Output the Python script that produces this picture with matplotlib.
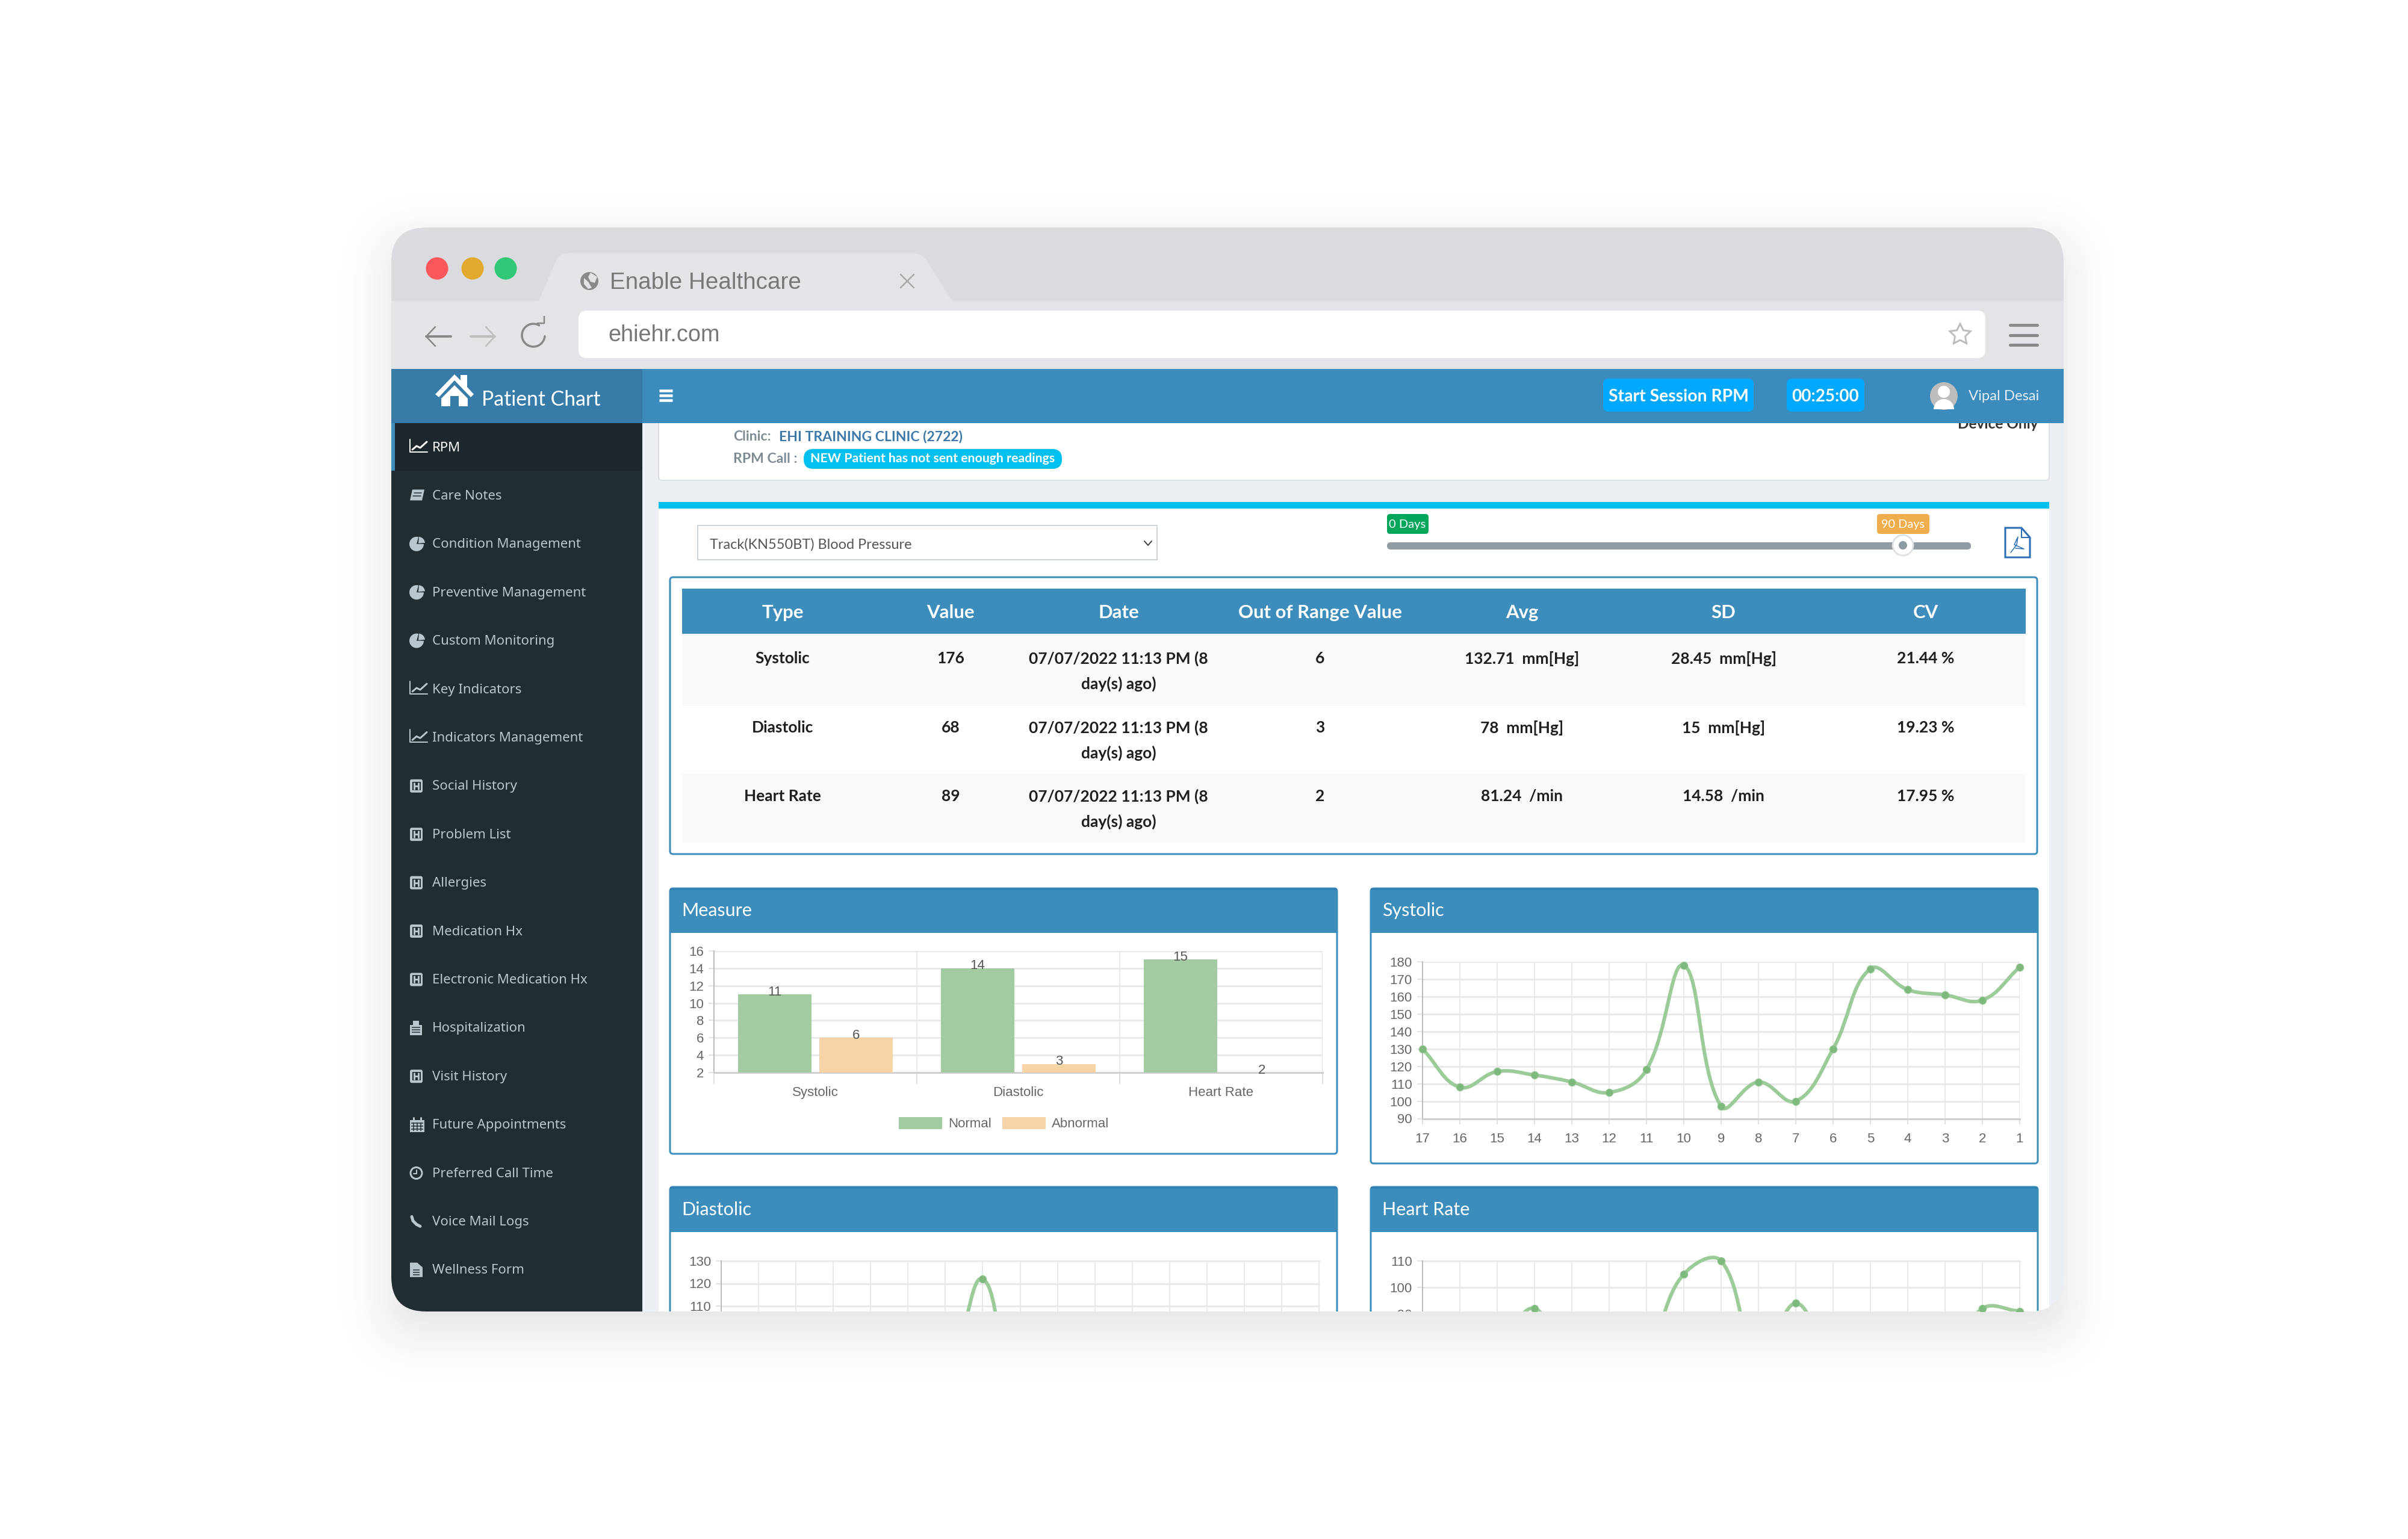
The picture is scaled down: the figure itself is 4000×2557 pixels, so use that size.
import numpy as np
import matplotlib
matplotlib.use("Agg")
import matplotlib.pyplot as plt
from matplotlib.patches import FancyBboxPatch, Rectangle, Circle, Wedge, PathPatch, Polygon
from matplotlib.path import Path
from matplotlib.textpath import TextPath
from matplotlib.font_manager import FontProperties
from matplotlib.lines import Line2D

# ---------- data ----------
menu_labels = ["RPM", "Care Notes", "Condition Management", "Preventive Management", "Custom Monitoring",
               "Key Indicators", "Indicators Management", "Social History", "Problem List", "Allergies",
               "Medication Hx", "Electronic Medication Hx", "Hospitalization", "Visit History",
               "Future Appointments", "Preferred Call Time", "Voice Mail Logs", "Wellness Form"]
menu_icons = ["line", "book", "pie", "pie", "pie", "line", "line", "h", "h", "h", "h", "h", "clip", "h",
              "cal", "clock", "phone", "file"]
table_header = ["Type", "Value", "Date", "Out of Range Value", "Avg", "SD", "CV"]
table_types = ["Systolic", "Diastolic", "Heart Rate"]
table_values = ["176", "68", "89"]
table_date1 = "07/07/2022 11:13 PM (8"
table_date2 = "day(s) ago)"
table_oor = ["6", "3", "2"]
table_avg = ["132.71  mm[Hg]", "78  mm[Hg]", "81.24  /min"]
table_sd = ["28.45  mm[Hg]", "15  mm[Hg]", "14.58  /min"]
table_cv = ["21.44 %", "19.23 %", "17.95 %"]

measure_categories = ["Systolic", "Diastolic", "Heart Rate"]
measure_normal = [11, 14, 15]
measure_abnormal = [6, 3, 2]

reading_labels = ["17", "16", "15", "14", "13", "12", "11", "10", "9", "8", "7", "6", "5", "4", "3", "2", "1"]
systolic = [130, 108, 117, 115, 111, 105, 118, 178, 97, 111, 100, 130, 176, 164, 161, 158, 177]
# only the peak is visible above the window edge; the rest is estimated
diastolic = [72, 66, 75, 70, 68, 74, 78, 122, 62, 72, 70, 84, 68, 78, 76, 74, 68]
# readings below about 90 are hidden by the window edge and are estimated
heart_rate = [80, 72, 78, 92, 70, 75, 78, 105, 110, 72, 94, 72, 70, 68, 72, 92, 91]

# ---------- layout ----------
W, H = 4000, 2557
fig = plt.figure(figsize=(W / 100, H / 100), dpi=100, facecolor="white")
root = fig.add_axes([0, 0, 1, 1], zorder=0)
root.set_xlim(0, W)
root.set_ylim(H, 0)
root.axis("off")

PX = 0.72
BLUE = "#3C8DBC"
WX0, WX1, WY0, WY1 = 650, 3428, 378, 2179
SANS = "Noto Sans"
COND = "Lato"
HELV = "Liberation Sans"
TICK_PT = 16


def fit(s, w, family, weight="normal"):
    fp = FontProperties(family=family, weight=weight)
    return w * 72 / TextPath((0, 0), s, size=100, prop=fp).get_extents().width


def T(x, y, s, size, color="#333333", family=SANS, weight="normal", ha="left", va="center", z=6):
    return root.text(x, y, s, fontsize=size, color=color, family=family, fontweight=weight, ha=ha, va=va, zorder=z)


def RR(x0, y0, x1, y1, r=0, fc="white", ec="none", lw=0, z=2, clip=None):
    if r > 0:
        p = FancyBboxPatch((x0, y0), x1 - x0, y1 - y0, boxstyle=f"round,pad=0,rounding_size={r}",
                           fc=fc, ec=ec, lw=lw * PX, zorder=z)
    else:
        p = Rectangle((x0, y0), x1 - x0, y1 - y0, fc=fc, ec=ec, lw=lw * PX, zorder=z)
    root.add_patch(p)
    if clip is not None:
        p.set_clip_path(clip)
    return p


def L(xs, ys, color, lw, z=6, cap="round"):
    ln = Line2D(xs, ys, color=color, lw=lw * PX, zorder=z, solid_capstyle=cap, solid_joinstyle="round")
    root.add_line(ln)
    return ln


# shadow drawn as opaque nested shapes, lightest first
for d in np.linspace(100, -30, 26):
    g = 255 - 23 * ((100 - d) / 130) ** 1.6
    c = (g / 255,) * 3
    RR(WX0 - d, WY0 + 30 - d, WX1 + d, WY1 + 30 + d, r=max(60 + d, 20), fc=c, z=0.5)

window = RR(WX0, WY0, WX1, WY1, r=58, fc="#DADBDF", z=1)
window_clip = Rectangle((WX0, WY0), WX1 - WX0, WY1 - WY0, transform=root.transData)

# browser chrome
RR(WX0, 500, WX1, 613, fc="#E3E4E8", z=1.2, clip=window)
tab = Path([(895, 500), (925, 430), (930, 420), (950, 420), (1510, 420), (1530, 420), (1537, 430), (1582, 500), (895, 500)],
           [Path.MOVETO, Path.LINETO, Path.CURVE3, Path.CURVE3, Path.LINETO, Path.CURVE3, Path.CURVE3, Path.LINETO, Path.CLOSEPOLY])
root.add_patch(PathPatch(tab, fc="#E3E4E8", ec="none", zorder=1.2))
for cx, col in zip([726, 785, 840], ["#F9575B", "#E2A92E", "#30C876"]):
    root.add_patch(Circle((cx, 446), 18.5, fc=col, ec="none", zorder=2))
root.add_patch(Circle((979, 467), 15, fc="#8A8A8A", ec="none", zorder=2))
root.add_patch(Polygon([(981, 453), (992, 460), (988, 470), (981, 468), (977, 460)], fc="#E3E4E8", ec="none", zorder=2.1))
root.add_patch(Polygon([(970, 462), (977, 468), (983, 478), (977, 480), (970, 472)], fc="#E3E4E8", ec="none", zorder=2.1))
T(1013, 470, "Enable Healthcare", fit("Enable Healthcare", 313, HELV), "#777777", HELV)
L([1496, 1518], [456, 478], "#A8A8A8", 2.5)
L([1518, 1496], [456, 478], "#A8A8A8", 2.5)
RR(961, 516, 3298, 595, r=14, fc="white", z=2)
T(1010, 557, "ehiehr.com", fit("ehiehr.com", 181, HELV), "#777777", HELV)
L([708, 749], [559, 559], "#888888", 4)
L([723, 708, 723], [543, 559, 575], "#888888", 2.5)
L([782, 822], [559, 559], "#BDBDBD", 4)
L([807, 822, 807], [543, 559, 575], "#BDBDBD", 2.5)
theta = np.deg2rad(np.linspace(5, 300, 50))
L(886 + 19 * np.cos(theta), 557 + 19 * np.sin(theta), "#888888", 3.5)
L([893, 904, 904], [537, 537, 526], "#888888", 2.5)
star_a = np.deg2rad(np.arange(0, 360, 36) - 90)
star_r = np.where(np.arange(10) % 2 == 0, 18, 9)
root.add_patch(Polygon(np.c_[3256 + star_r * np.cos(star_a), 556 + star_r * np.sin(star_a)],
                       fc="none", ec="#BDBDBD", lw=3 * PX, zorder=4))
for yy in [540, 557, 573]:
    L([3339, 3384], [yy, yy], "#8A8A8A", 5)

# content background
RR(1067, 613, WX1, WY1 + 2, fc="#ECF0F5", z=1.5, clip=window)
RR(1094, 690, 3404, 798, r=6, fc="white", ec="#D6DADF", lw=1.5, z=1.8)
RR(1094, 834, 3404, WY1 + 40, fc="white", z=1.8, clip=window)
RR(1094, 834, 3404, 845, fc="#00C0EF", z=1.9)

# top box texts (the clipped line sits under the header)
T(3386, 704, "Device Only", fit("Device Only", 132, COND, "bold"), "#333333", COND, "bold", ha="right", z=2)
cf = fit("EHI TRAINING CLINIC (2722)", 302, COND, "bold")
T(1218, 725, "Clinic:", cf, "#7F8B93", COND, "bold")
T(1294, 725, "EHI TRAINING CLINIC (2722)", cf, "#3C78A8", COND, "bold")
T(1218, 762, "RPM Call :", cf, "#7F8B93", COND, "bold")
RR(1335, 746, 1764, 779, r=16, fc="#00C0EF", z=3)
T(1549, 762, "NEW Patient has not sent enough readings",
  fit("NEW Patient has not sent enough readings", 405, COND, "bold"), "white", COND, "bold", ha="center")

# header
RR(WX0, 613, 1067, 703, fc="#377CA8", z=3)
RR(1067, 613, WX1, 703, fc="#3B8BBC", z=3)
root.add_patch(Polygon([(723, 655), (755, 622), (765, 632), (765, 623), (776, 623), (776, 643), (787, 655), (782, 660),
                        (755, 632), (729, 660)], fc="white", ec="none", zorder=4))
root.add_patch(Polygon([(733, 662), (755, 640), (777, 662), (777, 675), (762, 675), (762, 658), (748, 658), (748, 675),
                        (733, 675)], fc="white", ec="none", zorder=4))
T(800, 664, "Patient Chart", fit("Patient Chart", 194, "Lato"), "#FFFFFF", "Lato", "normal")
for yy in [649, 657, 665]:
    L([1095, 1117], [yy, yy], "white", 4.5, cap="butt")
RR(2663, 629, 2913, 684, r=9, fc="#00A8FF", z=4)
RR(2968, 629, 3097, 684, r=9, fc="#00A8FF", z=4)
T(2788, 659, "Start Session RPM", fit("Start Session RPM", 230, COND, "bold"), "white", COND, "bold", ha="center")
T(3032, 659, "00:25:00", fit("00:25:00", 110, COND, "bold"), "white", COND, "bold", ha="center")
root.add_patch(Circle((3229, 658), 23, fc="#BDBDBD", ec="none", zorder=4))
root.add_patch(Circle((3229, 651), 10, fc="white", ec="none", zorder=4.1))
root.add_patch(Wedge((3229, 680), 17, 180, 360, fc="white", ec="none", zorder=4.1))
T(3270, 658, "Vipal Desai", fit("Vipal Desai", 116, COND), "#E4EEF5", COND)

# sidebar
RR(WX0, 703, 1067, WY1 + 2, fc="#222D32", z=3, clip=window)
RR(WX0, 703, 1067, 782, fc="#1E282C", z=3.1)
RR(WX0, 703, 656, 782, fc=BLUE, z=3.2)


def icon(kind, cy, col):
    x = 681
    if kind == "line":
        L([x, x, x + 29], [cy - 13, cy + 8, cy + 8], col, 2)
        L([x + 4, x + 11, x + 17, x + 28], [cy + 4, cy - 2, cy + 1, cy - 9], col, 3)
    elif kind == "book":
        root.add_patch(Polygon([(x + 4, cy - 10), (x + 24, cy - 10), (x + 20, cy + 8), (x, cy + 8)], fc=col, ec="none", zorder=6))
        L([x + 7, x + 19], [cy - 4, cy - 4], "#222D32", 1.5)
        L([x + 5, x + 18], [cy + 1, cy + 1], "#222D32", 1.5)
    elif kind == "pie":
        root.add_patch(Wedge((x + 11, cy), 12, 0, 285, fc=col, ec="none", zorder=6))
        root.add_patch(Wedge((x + 14, cy - 1), 11, -85, -5, fc=col, ec="none", zorder=6))
    elif kind == "h":
        RR(x, cy - 11, x + 21, cy + 11, r=3, fc=col, z=6)
        RR(x + 3.5, cy - 7, x + 17.5, cy + 7, fc="#222D32", z=6.1)
        L([x + 7, x + 7], [cy - 6, cy + 6], col, 3, z=6.2, cap="butt")
        L([x + 14, x + 14], [cy - 6, cy + 6], col, 3, z=6.2, cap="butt")
        L([x + 7, x + 14], [cy, cy], col, 3, z=6.2, cap="butt")
    elif kind == "clip":
        RR(x, cy - 5, x + 20, cy + 12, fc=col, z=6)
        RR(x + 5, cy - 12, x + 15, cy - 5, fc=col, z=6)
        for dy in [-1, 3, 7]:
            L([x + 3, x + 17], [cy + dy, cy + dy], "#222D32", 1.5, cap="butt")
    elif kind == "cal":
        RR(x, cy - 8, x + 24, cy + 12, fc=col, z=6)
        L([x + 6, x + 6], [cy - 12, cy - 6], col, 3)
        L([x + 18, x + 18], [cy - 12, cy - 6], col, 3)
        for dy in [-3, 2, 7]:
            L([x + 2, x + 22], [cy + dy, cy + dy], "#222D32", 1.5, cap="butt")
        for dx in [6, 12, 18]:
            L([x + dx, x + dx], [cy - 4, cy + 10], "#222D32", 1.5, cap="butt")
    elif kind == "clock":
        root.add_patch(Circle((x + 10.5, cy), 9.5, fc="none", ec=col, lw=3 * PX, zorder=6))
        L([x + 11, x + 11, x + 6], [cy - 5, cy + 1, cy + 1], col, 2)
    elif kind == "phone":
        L([x + 3, x + 5, x + 11, x + 17], [cy - 8, cy - 1, cy + 5, cy + 8], col, 5)
    elif kind == "file":
        root.add_patch(Polygon([(x, cy - 12), (x + 12, cy - 12), (x + 21, cy - 4), (x + 21, cy + 12), (x, cy + 12)],
                               fc=col, ec="none", zorder=6))
        for dy in [0, 4, 8]:
            L([x + 5, x + 16], [cy + dy, cy + dy], "#222D32", 1.5, cap="butt")


mf = fit("Indicators Management", 250, SANS)
for i, (label, ic) in enumerate(zip(menu_labels, menu_icons)):
    cy = 743 + 80.4 * i
    col = "white" if i == 0 else "#B8C7CE"
    T(718, cy + 1, label, mf, col, SANS)
    icon(ic, cy, col)

# controls
RR(1159, 873, 1922, 930, fc="white", ec="#CFD3DA", lw=2, z=3)
T(1179, 905, "Track(KN550BT) Blood Pressure", fit("Track(KN550BT) Blood Pressure", 335, COND), "#555555", COND)
L([1901, 1907, 1913], [899, 906, 899], "#444444", 2)
RR(2304, 854, 2373, 887, r=5, fc="#00A65A", z=3)
T(2338, 871, "0 Days", fit("0 Days", 60, COND), "white", COND, ha="center")
RR(3118, 854, 3205, 887, r=5, fc="#F0AD4E", z=3)
T(3161, 871, "90 Days", fit("90 Days", 70, COND), "white", COND, ha="center")
RR(2304, 901, 3274, 913, r=6, fc="#909BA4", z=3)
root.add_patch(Circle((3161, 906), 17, fc="white", ec="#DDE1E4", lw=2, zorder=4))
root.add_patch(Circle((3161, 906), 7, fc="#8F9BA3", ec="none", zorder=4.1))
root.add_patch(Polygon([(3331, 877), (3358, 877), (3372, 893), (3372, 926), (3331, 926)], fc="white", ec="#2A6FB5",
                       lw=3 * PX, zorder=4))
L([3358, 3358, 3372], [877, 893, 893], "#2A6FB5", 2)
L([3340, 3350, 3352, 3346, 3362, 3348], [918, 905, 892, 905, 912, 911], "#2A6FB5", 1.5)

# table
RR(1113, 959, 3384, 1419, r=5, fc="white", ec=BLUE, lw=3, z=2)
RR(1133, 978, 3365, 1053, fc=BLUE, z=2.1)
RR(1133, 1053, 3365, 1173, fc="#F9F9F9", z=2.1)
RR(1133, 1285, 3365, 1400, fc="#F9F9F9", z=2.1)
col_x = [1300, 1579, 1858, 2193, 2528, 2863, 3199]
hf = fit("Out of Range Value", 270, COND, "bold")
for cx, h in zip(col_x, table_header):
    T(cx, 1018, h, hf, "white", COND, "bold", ha="center")
tf = fit(table_date1, 296, COND, "bold")
row_y = [1094, 1209, 1323]
for i, y in enumerate(row_y):
    vals = [table_types[i], table_values[i], table_date1, table_oor[i], table_avg[i], table_sd[i], table_cv[i]]
    for cx, v in zip(col_x, vals):
        T(cx, y, v, tf, "#1E1E1E", COND, "bold", ha="center")
    T(col_x[2], y + 42, table_date2, tf, "#1E1E1E", COND, "bold", ha="center")

# chart panels
PANELS = [("Measure", 1113, 2221, 1476, 1917, 1550), ("Systolic", 2277, 3385, 1476, 1933, 1550),
          ("Diastolic", 1113, 2221, 1972, WY1 + 40, 2047), ("Heart Rate", 2277, 3385, 1972, WY1 + 40, 2047)]
pf = fit("Measure", 113, COND)
for name, x0, x1, y0, y1, yh in PANELS:
    RR(x0, y0, x1, y1, r=5, fc="white", ec=BLUE, lw=3, z=2, clip=window)
    RR(x0, y0, x1, yh, fc=BLUE, z=2.1, clip=window)
    RR(x0, y0, x1, y0 + 3, fc="#2E7FB2", z=2.2)
    T(x0 + 19, (y0 + yh) / 2, name, pf, "white", COND)


def chart_axes(x0, x1, ytop, ybot):
    ax = fig.add_axes([x0 / W, 1 - ybot / H, (x1 - x0) / W, (ybot - ytop) / H], zorder=1)
    ax.patch.set_alpha(0)
    for s in ["top", "right"]:
        ax.spines[s].set_visible(False)
    ax.spines["left"].set_color("#BBBBBB")
    ax.spines["left"].set_linewidth(2 * PX)
    ax.spines["bottom"].set_color("#CFCFCF")
    ax.spines["bottom"].set_linewidth(3 * PX)
    ax.set_axisbelow(True)
    ax.grid(True, axis="y", color="#E8E8E8", lw=3 * PX)
    ax.grid(True, axis="x", color="#E3E3E3", lw=1.5 * PX)
    ax.tick_params(axis="y", length=9 * PX, width=2 * PX, color="#E3E3E3", pad=8 * PX, labelsize=TICK_PT,
                   labelcolor="#666666")
    ax.tick_params(axis="x", length=9 * PX, width=1.5 * PX, color="#D5D5D5", pad=14 * PX, labelsize=TICK_PT,
                   labelcolor="#666666")
    return ax


# Measure: grouped bars
ax = chart_axes(1186, 2197, 1580, 1782)
ax.set_xlim(0, 3)
ax.set_ylim(2, 16)
ax.set_yticks(range(2, 17, 2))
ax.set_xticks([0, 1, 2, 3])
ax.set_xticklabels([])
ax.tick_params(axis="x", which="major", length=19 * PX)
centres = np.arange(3) + 0.5
ax.set_xticks(centres, minor=True)
ax.set_xticklabels(measure_categories, minor=True, fontsize=TICK_PT, color="#666666", family=HELV)
ax.tick_params(axis="x", which="minor", length=0, pad=23 * PX)
b1 = ax.bar(centres - 0.2, measure_normal, 0.36, color="#A3CBA1", label="Normal", bottom=0, zorder=3)
b2 = ax.bar(centres + 0.2, measure_abnormal, 0.36, color="#F7D4A6", label="Abnormal", bottom=0, zorder=3)
for xs, vals in [(centres - 0.2, measure_normal), (centres + 0.2, measure_abnormal)]:
    for xv, v in zip(xs, vals):
        ax.annotate(str(v), (xv, v), xytext=(0, 4 * PX), textcoords="offset points", ha="center", va="center",
                    fontsize=TICK_PT, color="#555555", family=HELV, annotation_clip=False, zorder=5)
for lb in ax.get_yticklabels():
    lb.set_family(HELV)
ax.legend(handles=[b1, b2], ncol=2, loc="center", bbox_to_anchor=(1667.5, 1867), bbox_transform=root.transData,
          frameon=False, prop=FontProperties(family=HELV, size=TICK_PT), labelcolor="#666666", borderpad=0,
          handlelength=3.26, handleheight=1.0, handletextpad=0.45, columnspacing=0.8, borderaxespad=0)


def bezier_path(xs, ys, ax, wpx, hpx, tension=0.4):
    """Chart.js style bezier through the data, built in pixel proportions."""
    x0, x1 = ax.get_xlim()
    y0, y1 = ax.get_ylim()
    sx, sy = wpx / (x1 - x0), hpx / (y1 - y0)
    P = np.c_[np.asarray(xs, float) * sx, np.asarray(ys, float) * sy]
    n = len(P)
    cp_prev, cp_next = np.zeros_like(P), np.zeros_like(P)
    for i in range(n):
        pr, cu, nx = P[max(i - 1, 0)], P[i], P[min(i + 1, n - 1)]
        d01, d12 = np.hypot(*(cu - pr)), np.hypot(*(nx - cu))
        tot = d01 + d12
        fa, fb = tension * d01 / tot, tension * d12 / tot
        cp_prev[i] = cu - fa * (nx - pr)
        cp_next[i] = cu + fb * (nx - pr)
    verts, codes = [P[0]], [Path.MOVETO]
    for i in range(n - 1):
        verts += [cp_next[i], cp_prev[i + 1], P[i + 1]]
        codes += [Path.CURVE4] * 3
    return Path(np.array(verts) / [sx, sy], codes)


def line_chart(values, x0, x1, ytop, ybot, ylow, yhigh, ticks, clip=False):
    ax = chart_axes(x0, x1, ytop, ybot)
    ax.set_xlim(0, len(values) - 1)
    ax.set_ylim(ylow, yhigh)
    ax.set_yticks(ticks)
    xp = np.arange(len(values))
    ax.set_xticks(xp)
    ax.set_xticklabels(reading_labels)
    for lb in ax.get_xticklabels() + ax.get_yticklabels():
        lb.set_family(HELV)
    ax.add_patch(PathPatch(bezier_path(xp, values, ax, x1 - x0, ybot - ytop), fc="none", ec="#9CCB9A", lw=6 * PX,
                           zorder=4, clip_on=clip))
    ax.plot(xp, values, ls="none", marker="o", ms=12 * PX, mfc="#7DB97C", mec="#8FC28E", mew=1, zorder=5, clip_on=clip)
    return ax


line_chart(systolic, 2363, 3355, 1598, 1858.5, 90, 180, range(90, 181, 10))
cut_d = line_chart(diastolic, 1198, 2191, 2095, 2298, 130 - 203 / 3.75, 130, [110, 120, 130])
cut_h = line_chart(heart_rate, 2363, 3355, 2095, 2298, 110 - 203 / 4.4, 110, [90, 100, 110])

# the two lower charts run past the window edge
fig.canvas.draw()
for a in (cut_d, cut_h):
    for art in a.findobj():
        if art is a or art is a.patch:
            continue
        art.set_clip_path(window_clip)
        art.set_clip_on(True)

fig.savefig("out.png", dpi=100)
